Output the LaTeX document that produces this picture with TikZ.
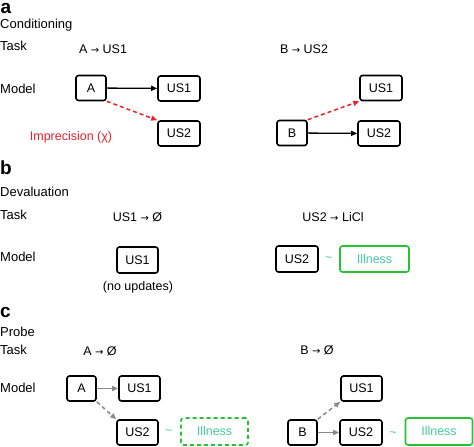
\documentclass[tikz,border=0pt]{standalone}
\usepackage{fontspec}
\setmainfont{Liberation Sans}
\newfontfamily\arrfont{DejaVu Sans}
\newcommand{\myarr}{{\arrfont\fontsize{10}{12}\selectfont →}}
\usetikzlibrary{arrows.meta}
\definecolor{myred}{HTML}{E8212B}
\definecolor{mygreen}{HTML}{25C232}
\definecolor{myteal}{HTML}{45C89E}
\definecolor{mygray}{HTML}{8A8A8A}
\tikzset{
  box/.style={draw, line width=1.6pt, rounded corners=2.5pt, minimum height=25pt, inner sep=0pt, font=\fontsize{12.5}{14}\selectfont},
  illbox/.style={box, draw=mygreen, text=myteal},
  lbl/.style={anchor=west, inner sep=0pt, font=\fontsize{13}{15}\selectfont},
  txt/.style={inner sep=0pt, font=\fontsize{12.5}{14}\selectfont},
  letter/.style={anchor=west, inner sep=0pt, font=\fontsize{19}{22}\selectfont\bfseries},
  blk/.style={line width=1.3pt, -{Triangle[length=6pt,width=5pt]}},
  redarr/.style={line width=1.5pt, myred, dashed, dash pattern=on 4pt off 3pt, -{Triangle[length=6pt,width=5pt]}},
  grayarr/.style={line width=1.5pt, mygray, -{Triangle[length=6pt,width=5pt]}},
  graydash/.style={grayarr, dash pattern=on 4pt off 3pt},
  tild/.style={inner sep=0pt, text=myteal, font=\fontsize{12}{14}\selectfont}
}
\begin{document}
\begin{tikzpicture}[x=1pt,y=-1pt]
\useasboundingbox (0,0) rectangle (474,447);
% ---------- a ----------
\node[letter] (la) at (0.5,8) {a};
\node[lbl] (cond) at (0,25) {Conditioning};
\node[lbl] (task1) at (0,46) {Task};
\node[lbl] (model1) at (0,89) {Model};
\node[txt] (t1) at (103,49) {A \myarr\ US1};
\node[txt] (t2) at (304,49) {B \myarr\ US2};
\node[box, minimum width=30pt] (A) at (91,88) {A};
\node[box, minimum width=42pt] (US1a) at (179,88.5) {US1};
\node[box, minimum width=42pt] (US2a) at (179,133.5) {US2};
\draw[blk] (A) -- (US1a);
\draw[redarr] (A.south east) -- (US2a.north west);
\node[txt, text=myred] (impr) at (71,137) {Imprecision (χ)};
\node[box, minimum width=30pt] (B) at (292,133) {B};
\node[box, minimum width=42pt] (US1b) at (381,88) {US1};
\node[box, minimum width=42pt] (US2b) at (379,133.5) {US2};
\draw[blk] (B) -- (US2b);
\draw[redarr] (B.north east) -- (US1b.south west);
% ---------- b ----------
\node[letter] (lb) at (0,168) {b};
\node[lbl] (dev) at (0,192) {Devaluation};
\node[lbl] (task2) at (0,215) {Task};
\node[lbl] (model2) at (0,257) {Model};
\node[txt] (t3) at (137.5,217) {US1 \myarr\ Ø};
\node[txt] (t4) at (333,217) {US2 \myarr\ LiCl};
\node[box, minimum width=41pt, minimum height=26pt] (US1c) at (137.5,260) {US1};
\node[txt] (noup) at (138,287) {(no updates)};
\node[box, minimum width=42pt, minimum height=26pt] (US2d) at (297,259) {US2};
\node[tild] (tl1) at (329,259) {\textasciitilde};
\node[illbox, minimum width=69pt, minimum height=26pt] (ill1) at (374.5,259) {Illness};
% ---------- c ----------
\node[letter] (lc) at (0,312) {c};
\node[lbl] (probe) at (0,332) {Probe};
\node[lbl] (task3) at (0,350) {Task};
\node[lbl] (model3) at (0,388) {Model};
\node[txt] (t5) at (100,351) {A \myarr\ Ø};
\node[txt] (t6) at (317,350) {B \myarr\ Ø};
\node[box, minimum width=29pt] (A2) at (81.5,388.5) {A};
\node[box, minimum width=41pt] (US1e) at (139.5,388.5) {US1};
\node[box, minimum width=41pt] (US2e) at (137.5,432.5) {US2};
\draw[grayarr] (A2) -- (US1e);
\draw[graydash] (A2.south east) -- (US2e.north west);
\node[tild] (tl2) at (169,432) {\textasciitilde};
\node[illbox, dashed, dash pattern=on 4pt off 3pt, minimum width=67pt, minimum height=27pt] (ill2) at (214.5,431.5) {Illness};
\node[box, minimum width=29pt] (B2) at (302.5,432.5) {B};
\node[box, minimum width=41pt] (US1f) at (361.5,388.5) {US1};
\node[box, minimum width=42pt] (US2f) at (361,432.5) {US2};
\draw[grayarr] (B2) -- (US2f);
\draw[graydash] (B2.north east) -- (US1f.south west);
\node[tild] (tl3) at (393,434) {\textasciitilde};
\node[illbox, minimum width=67pt, minimum height=27pt] (ill3) at (439,431.5) {Illness};
\end{tikzpicture}
\end{document}
